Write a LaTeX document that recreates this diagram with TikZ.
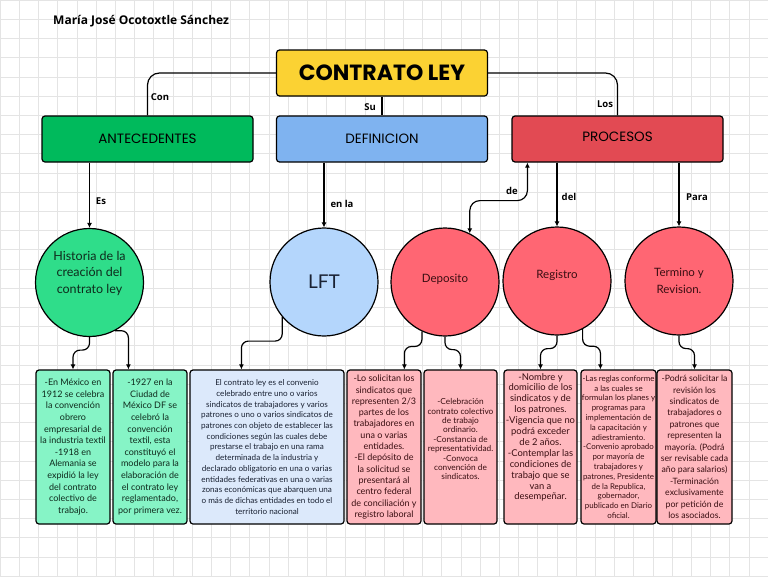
\documentclass[tikz,border=0pt]{standalone}
\usepackage{fontspec}
\setmainfont{Lato}
\newfontfamily\opensans{Open Sans}
\newfontfamily\pop{Poppins}
\usetikzlibrary{arrows.meta,calc}
\definecolor{cyellow}{HTML}{FBD233}
\definecolor{cgreen}{HTML}{00BA5C}
\definecolor{cblue}{HTML}{7FB3F0}
\definecolor{cred}{HTML}{E24A53}
\definecolor{chist}{HTML}{2FDD8A}
\definecolor{clft}{HTML}{B4D6FC}
\definecolor{credc}{HTML}{FF6673}
\definecolor{cmint}{HTML}{86F4C6}
\definecolor{cpale}{HTML}{DCE9FB}
\definecolor{cpink}{HTML}{FFB8BE}
\definecolor{cgrid}{HTML}{E4E4E4}
\definecolor{tred}{HTML}{3A0E12}
\definecolor{tgreen}{HTML}{0E2A1C}
\definecolor{tblue}{HTML}{1A2233}
\tikzset{
  x=1pt, y=-1pt,
  topbox/.style={draw, line width=1.2pt, rounded corners=3pt, minimum width=211pt, minimum height=46pt, inner sep=0pt},
  circ/.style={draw, circle, line width=1.2pt, minimum size=108pt, inner sep=0pt, align=center},
  smallbox/.style={draw, line width=1.2pt, rounded corners=3pt, minimum height=154pt, inner sep=0.5pt, align=center},
  plainline/.style={line width=1.2pt, rounded corners=12pt},
  conn/.style={line width=1.2pt, rounded corners=7pt, -{Latex[length=5pt,width=5pt]}},
  lbl/.style={font=\opensans\bfseries\fontsize{9.5}{11}\selectfont, inner sep=0pt}
}
\begin{document}
\begin{tikzpicture}
\useasboundingbox (0,0) rectangle (768,576);
\fill[white] (0,0) rectangle (768,576);
\foreach \i in {0,...,40} \draw[cgrid, line width=0.5pt] (\i*19.2,0) -- (\i*19.2,576);
\foreach \j in {0,...,30} \draw[cgrid, line width=0.5pt] (0,\j*19.2) -- (768,\j*19.2);

% author
\node[font=\opensans\bfseries\fontsize{12}{14}\selectfont, anchor=west, inner sep=0pt] (author) at (53,21) {María José Ocotoxtle Sánchez};

% top level
\node[topbox, fill=cyellow, font=\pop\bfseries\fontsize{22}{25}\selectfont] (title) at (382,73) {CONTRATO LEY};
\node[topbox, fill=cgreen, font=\pop\fontsize{13.5}{15}\selectfont] (ante) at (147.5,139) {ANTECEDENTES};
\node[topbox, fill=cblue, font=\pop\fontsize{13.5}{15}\selectfont] (defi) at (382,139) {DEFINICION};
\node[topbox, fill=cred, font=\pop\fontsize{13.5}{15}\selectfont] (proc) at (617.5,139) {\raisebox{5pt}{PROCESOS}};

% circles
\node[circ, fill=chist, font=\fontsize{12.5}{16.5}\selectfont, text=tgreen] (hist) at (89.5,282.5) {Historia de la\\creación del\\contrato ley\\[4pt]};
\node[circ, fill=clft, font=\fontsize{19}{22}\selectfont, text=tblue] (lft) at (324,282) {LFT};
\node[circ, fill=credc, font=\fontsize{11.5}{16}\selectfont, text=tred] (dep) at (445,282) {Deposito\\[-8pt]};
\node[circ, fill=credc, font=\fontsize{11.5}{16}\selectfont, text=tred] (reg) at (557,281) {Registro\\[-2pt]};
\node[circ, fill=credc, font=\fontsize{11.5}{16.5}\selectfont, text=tred] (term) at (679,281) {Termino y\\Revision.};

% bottom boxes
\node[smallbox, fill=cmint, minimum width=74pt, text=tgreen, font=\fontsize{9}{11.6}\selectfont] (b1) at (73,447) {-En México en\\1912 se celebra\\la convención\\obrero\\empresarial de\\la industria textil\\-1918 en\\Alemania se\\expidió la ley\\del contrato\\colectivo de\\trabajo.};
\node[smallbox, fill=cmint, minimum width=74pt, text=tgreen, font=\fontsize{9}{11.6}\selectfont] (b2) at (150,447) {-1927 en la\\Ciudad de\\México DF se\\celebró la\\convención\\textil, esta\\constituyó el\\modelo para la\\elaboración de\\el contrato ley\\reglamentado,\\por primera vez.};
\node[smallbox, fill=cpale, minimum width=154pt, text=tblue, font=\fontsize{8.1}{10.7}\selectfont] (lbox) at (267,447) {El contrato ley es el convenio\\celebrado entre uno o varios\\sindicatos de trabajadores y varios\\patrones o uno o varios sindicatos de\\patrones con objeto de establecer las\\condiciones según las cuales debe\\prestarse el trabajo en una rama\\determinada de la industria y\\declarado obligatorio en una o varias\\entidades federativas en una o varias\\zonas económicas que abarquen una\\o más de dichas entidades en todo el\\territorio nacional};
\node[smallbox, fill=cpink, minimum width=74pt, text=tred, font=\fontsize{9}{11.3}\selectfont] (d1) at (384,447) {-Lo solicitan los\\sindicatos que\\representen 2/3\\partes de los\\trabajadores en\\una o varias\\entidades.\\-El depósito de\\la solicitud se\\presentará al\\centro federal\\de conciliación y\\registro laboral};
\node[smallbox, fill=cpink, minimum width=73pt, text=tred, font=\fontsize{8.3}{9.4}\selectfont] (d2) at (460.5,447) {-Celebración\\contrato colectivo\\de trabajo\\ordinario.\\-Constancia de\\representatividad.\\-Convoca\\convención de\\sindicatos.\\[6pt]};
\node[smallbox, fill=cpink, minimum width=73pt, text=tred, font=\fontsize{9.4}{10.9}\selectfont] (r1) at (540.5,447) {-Nombre y\\domicilio de los\\sindicatos y de\\los patrones.\\-Vigencia que no\\podrá exceder\\de 2 años.\\-Contemplar las\\condiciones de\\trabajo que se\\van a\\desempeñar.\\[10pt]};
\node[smallbox, fill=cpink, minimum width=75pt, text=tred, font=\fontsize{7.9}{9.8}\selectfont] (r2) at (618.5,447) {-Las reglas conforme\\a las cuales se\\formulan los planes y\\programas para\\implementación de\\la capacitación y\\adiestramiento.\\-Convenio aprobado\\por mayoría de\\trabajadores y\\patrones, Presidente\\de la Republica,\\gobernador,\\publicado en Diario\\oficial.};
\node[smallbox, fill=cpink, minimum width=75pt, text=tred, font=\fontsize{8.7}{11.4}\selectfont] (tb) at (694.5,447) {-Podrá solicitar la\\revisión los\\sindicatos de\\trabajadores o\\patrones que\\representen la\\mayoría. (Podrá\\ser revisable cada\\año para salarios)\\-Terminación\\exclusivamente\\por petición de\\los asociados.};

% top connectors
\draw[plainline] (title.west) -| (ante.north);
\draw[plainline] (title.east) -| (proc.north);
\draw[line width=1.2pt] (title.south) -- (defi.north);
\node[lbl] (lcon) at (160,97) {Con};
\node[lbl] (lsu) at (370,107) {Su};
\node[lbl] (llos) at (605,104) {Los};

% second level connectors
\draw[conn] (hist.north |- ante.south) -- (hist.north);
\draw[conn] (lft.north |- defi.south) -- (lft.north);
\coordinate (pdep) at ($(proc.south west)+(16,0)$);
\draw[conn, {Latex[length=5pt,width=5pt]}-{Latex[length=5pt,width=5pt]}, rounded corners=10pt] (pdep) -- ++(0,38) -| (dep.63);
\draw[conn] (reg.north |- proc.south) -- (reg.north);
\draw[conn] (term.north |- proc.south) -- (term.north);
\node[lbl] (les) at (101,201) {Es};
\node[lbl] (lenla) at (342,204) {en la};
\node[lbl] (lde) at (512,191) {de};
\node[lbl] (ldel) at (569,197) {del};
\node[lbl] (lpara) at (697,197) {Para};

% bottom connectors
\draw[conn] (hist.south) -- ++(0,13) -| (b1.north);
\draw[conn] (hist.-62) -| ($(b2.north west)+(16,0)$);
\draw[conn] (lft.220) -- ++(0,24) -| ($(lbox.north west)+(52,0)$);
\draw[conn] (dep.245) -- ++(0,15) -| ($(d1.north west)+(58,0)$);
\draw[conn] (dep.south) -- ++(0,13) -| (d2.north);
\draw[conn] (reg.south) -- ++(0,13) -| (r1.north);
\draw[conn] (reg.-62) -- ++(0,17) -| ($(r2.north west)+(20,0)$);
\draw[conn] (term.south) -- ++(0,13) -| (tb.north);
\end{tikzpicture}
\end{document}
